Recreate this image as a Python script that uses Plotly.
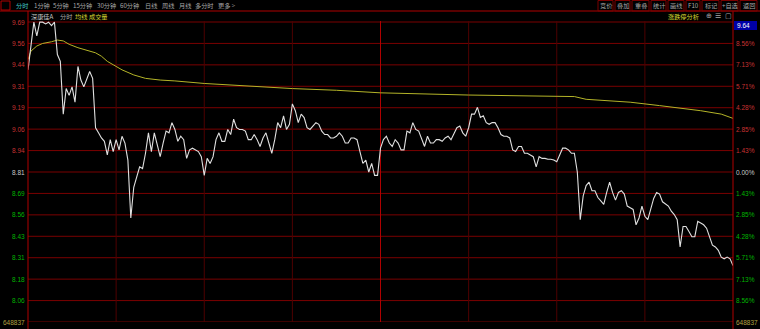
import plotly.graph_objects as go

# ---------------- data ----------------
preclose = 8.81

price_minutes = list(range(0, 241))
price_values = [
    9.41, 9.55, 9.69, 9.61, 9.69, 9.69, 9.68, 9.69, 9.67, 9.69,   # 0-9
    9.50, 9.46, 9.15, 9.30, 9.26, 9.31, 9.22, 9.43, 9.35, 9.31,   # 10-19
    9.36, 9.40, 9.36, 9.07, 9.04, 9.01, 8.99, 8.91, 9.00, 8.93,   # 20-29
    9.00, 8.94, 9.02, 8.98, 8.88, 8.54, 8.72, 8.78, 8.84, 8.83,   # 30-39
    8.92, 9.04, 8.93, 9.04, 8.97, 8.90, 8.98, 9.05, 9.04, 9.10,   # 40-49
    9.06, 8.99, 9.02, 9.00, 8.89, 8.94, 8.95, 8.94, 8.93, 8.90,   # 50-59
    8.79, 8.89, 8.86, 8.90, 9.00, 9.04, 8.99, 8.99, 9.06, 9.03,   # 60-69
    9.12, 9.07, 9.06, 9.06, 9.05, 9.00, 9.00, 9.03, 9.00, 8.96,   # 70-79
    9.01, 9.04, 8.98, 8.92, 9.00, 9.10, 9.07, 9.14, 9.06, 9.09,   # 80-89
    9.21, 9.17, 9.10, 9.15, 9.13, 9.07, 9.06, 9.08, 9.10, 9.09,   # 90-99
    9.05, 9.03, 9.03, 9.01, 9.01, 9.02, 9.04, 9.02, 8.98, 8.98,   # 100-109
    9.01, 9.01, 9.00, 8.93, 8.86, 8.88, 8.81, 8.86, 8.79, 8.79,   # 110-119
    8.95, 9.00, 9.02, 8.98, 8.96, 9.00, 8.98, 8.94, 8.94, 9.05,   # 120-129
    9.04, 9.10, 9.06, 9.05, 9.00, 8.96, 9.02, 8.98, 8.98, 9.00,   # 130-139
    9.00, 8.99, 9.01, 9.02, 9.00, 9.04, 9.07, 9.08, 9.04, 9.02,   # 140-149
    9.07, 9.15, 9.15, 9.19, 9.13, 9.14, 9.10, 9.09, 9.10, 9.10,   # 150-159
    9.07, 9.03, 9.02, 9.02, 9.01, 8.94, 8.93, 8.96, 8.96, 8.92,   # 160-169
    8.92, 8.91, 8.90, 8.84, 8.90, 8.89, 8.89, 8.885, 8.885, 8.88, # 170-179
    8.87, 8.91, 8.95, 8.95, 8.94, 8.92, 8.92, 8.81, 8.53, 8.67,   # 180-189
    8.73, 8.75, 8.70, 8.70, 8.66, 8.64, 8.62, 8.69, 8.75, 8.69,   # 190-199
    8.645, 8.69, 8.70, 8.68, 8.61, 8.60, 8.59, 8.50, 8.54, 8.61,  # 200-209
    8.55, 8.53, 8.60, 8.655, 8.69, 8.68, 8.635, 8.62, 8.61, 8.58, # 210-219
    8.56, 8.53, 8.37, 8.49, 8.49, 8.46, 8.43, 8.43, 8.52, 8.51,   # 220-229
    8.50, 8.48, 8.43, 8.38, 8.37, 8.35, 8.31, 8.30, 8.31, 8.30,   # 230-239
    8.26,                                                          # 240
]

avg_minutes = [0, 1, 3, 5, 8, 10, 12, 14, 17, 21, 23, 25, 27, 29, 32, 36, 40, 45, 50,
               60, 75, 90, 105, 120, 150, 170, 186, 190, 195, 205, 215, 222, 229, 236, 240]
avg_values = [9.47, 9.52, 9.55, 9.565, 9.575, 9.585, 9.58, 9.56, 9.54, 9.52, 9.51, 9.49,
              9.46, 9.44, 9.41, 9.38, 9.36, 9.35, 9.345, 9.33, 9.315, 9.30, 9.29, 9.275,
              9.262, 9.258, 9.253, 9.237, 9.23, 9.22, 9.20, 9.185, 9.17, 9.15, 9.125]

left_labels = ["9.69", "9.56", "9.44", "9.31", "9.19", "9.06", "8.94", "8.81",
               "8.69", "8.56", "8.43", "8.31", "8.18", "8.06", "648837"]
right_labels = ["", "8.56%", "7.13%", "5.71%", "4.28%", "2.85%", "1.43%", "0.00%",
                "1.43%", "2.85%", "4.28%", "5.71%", "7.13%", "8.56%", "648837"]

toolbar_left = ["分时", "1分钟", "5分钟", "15分钟", "30分钟", "60分钟", "日线", "周线", "月线", "多分时", "更多 >"]
toolbar_right = ["竞价", "叠加", "重叠", "统计", "画线", "F10", "标记", "+自选", "返回"]
stock_name = "深康佳A"
current_price = "9.64"

# ---------------- geometry helpers ----------------
W, H = 760, 329
L, R = 28, 733
TOP, BOT = 18, 322
step = preclose * 0.1 / 7
pxstep = 300 / 14
yhi = preclose + 7 * step + (22 - TOP) / pxstep * step
ylo = preclose - 7 * step


def px(x):
    return (x - L) / (R - L)


def py(y):
    return (BOT - y) / (BOT - TOP)


RED = "#c83232"
GREEN = "#00b400"
GRID = "#7a0000"
VGRID = "#4e0000"
BRIGHT = "#b00000"
NUMFONT = "Liberation Sans"
CJK = "Noto Sans CJK SC"
CJKSIZE = 6.2

fig = go.Figure()
fig.add_trace(go.Scatter(x=avg_minutes, y=avg_values, mode="lines",
                         line=dict(color="#b4b428", width=1), hoverinfo="skip"))
fig.add_trace(go.Scatter(x=price_minutes, y=price_values, mode="lines",
                         line=dict(color="#e0e0e0", width=1.1), hoverinfo="skip"))

shapes = []
annotations = []

# horizontal grid levels
for k in range(7, -8, -1):
    lvl = preclose + k * step
    shapes.append(dict(type="line", xref="paper", yref="y", x0=0, x1=1, y0=lvl, y1=lvl,
                       line=dict(color=GRID, width=1), layer="below"))
# vertical grid
for m in range(30, 240, 30):
    shapes.append(dict(type="line", xref="x", yref="paper", x0=m, x1=m, y0=0, y1=py(21),
                       line=dict(color=BRIGHT if m == 120 else VGRID, width=1), layer="below"))
# borders
for xx in (L, R):
    shapes.append(dict(type="line", xref="paper", yref="paper", x0=px(xx), x1=px(xx),
                       y0=py(329), y1=py(11), line=dict(color=BRIGHT, width=1)))
shapes.append(dict(type="line", xref="paper", yref="paper", x0=px(0), x1=px(760),
                   y0=py(11), y1=py(11), line=dict(color=BRIGHT, width=1)))
shapes.append(dict(type="rect", xref="paper", yref="paper", x0=px(1), x1=px(10),
                   y0=py(10), y1=py(1), line=dict(color=BRIGHT, width=1)))

# y labels
for i, (lt, rt) in enumerate(zip(left_labels, right_labels)):
    k = 7 - i
    lvl = preclose + k * step
    if i == 14:
        lc = rc = "#b0a040"
    elif k > 0:
        lc, rc = RED, RED
    elif k == 0:
        lc, rc = "#c8c8c8", "#c8c8c8"
    else:
        lc, rc = GREEN, GREEN
    annotations.append(dict(x=px(27), y=lvl, xref="paper", yref="y", text=lt, showarrow=False,
                            xanchor="right", yanchor="middle",
                            font=dict(family=NUMFONT, size=6.5, color=lc)))
    if rt:
        annotations.append(dict(x=px(734), y=lvl, xref="paper", yref="y", text=rt, showarrow=False,
                                xanchor="left", yanchor="middle",
                                font=dict(family=NUMFONT, size=6.5, color=rc)))

# current price box
shapes.append(dict(type="rect", xref="paper", yref="paper", x0=px(734), x1=px(757),
                   y0=py(30), y1=py(21), fillcolor="#0000a8", line=dict(width=0)))
annotations.append(dict(x=px(735), y=py(25.5), xref="paper", yref="paper", text=current_price,
                        showarrow=False, xanchor="left", yanchor="middle",
                        font=dict(family=NUMFONT, size=6.5, color="#ffffff")))

# toolbar left
tb_x = [14, 32, 51, 71, 95, 118, 143, 160, 177, 193, 216]
for i, (t, xx) in enumerate(zip(toolbar_left, tb_x)):
    annotations.append(dict(x=px(xx), y=py(6), xref="paper", yref="paper", text=t, showarrow=False,
                            xanchor="left", yanchor="middle",
                            font=dict(family=CJK, size=CJKSIZE, color="#40c8c8" if i == 0 else "#a8a8a8")))
# toolbar right buttons
tbr = [(598, 613), (615, 630), (632, 649), (651, 666), (668, 684), (686, 700), (702, 719), (721, 738), (740, 757)]
for t, (a, b) in zip(toolbar_right, tbr):
    shapes.append(dict(type="rect", xref="paper", yref="paper", x0=px(a), x1=px(b),
                       y0=py(11), y1=py(0.5), line=dict(color=GRID, width=1)))
    annotations.append(dict(x=px((a + b) / 2), y=py(6), xref="paper", yref="paper", text=t,
                            showarrow=False, xanchor="center", yanchor="middle",
                            font=dict(family=CJK, size=CJKSIZE, color="#a8a8a8")))

# second row
row2 = [(stock_name, 29, "#c8c8c8"), ("分时", 58, "#a8a8a8"), ("均线", 73, "#d8d830"), ("成交量", 87, "#d8d830")]
for t, xx, c in row2:
    annotations.append(dict(x=px(xx), y=py(16), xref="paper", yref="paper", text=t, showarrow=False,
                            xanchor="left", yanchor="middle", font=dict(family=CJK, size=CJKSIZE, color=c)))
annotations.append(dict(x=px(701), y=py(16), xref="paper", yref="paper", text="涨跌停分析", showarrow=False,
                        xanchor="right", yanchor="middle", font=dict(family=CJK, size=CJKSIZE, color="#d8d830")))
for t, xx in (("⊕", 709), ("☰", 718), ("▢", 728)):
    annotations.append(dict(x=px(xx), y=py(16), xref="paper", yref="paper", text=t, showarrow=False,
                            xanchor="center", yanchor="middle",
                            font=dict(family="DejaVu Sans", size=7, color="#a8a8a8")))

fig.update_layout(
    width=W, height=H,
    margin=dict(l=L, r=W - R, t=TOP, b=H - BOT, pad=0),
    paper_bgcolor="#000000", plot_bgcolor="#000000",
    showlegend=False,
    xaxis=dict(range=[0, 240], showgrid=False, zeroline=False, showticklabels=False,
               showline=False, fixedrange=True),
    yaxis=dict(range=[ylo, yhi], showgrid=False, zeroline=False, showticklabels=False,
               showline=False, fixedrange=True),
    shapes=shapes, annotations=annotations,
)

fig.write_html("out.html", config={"displayModeBar": False})
